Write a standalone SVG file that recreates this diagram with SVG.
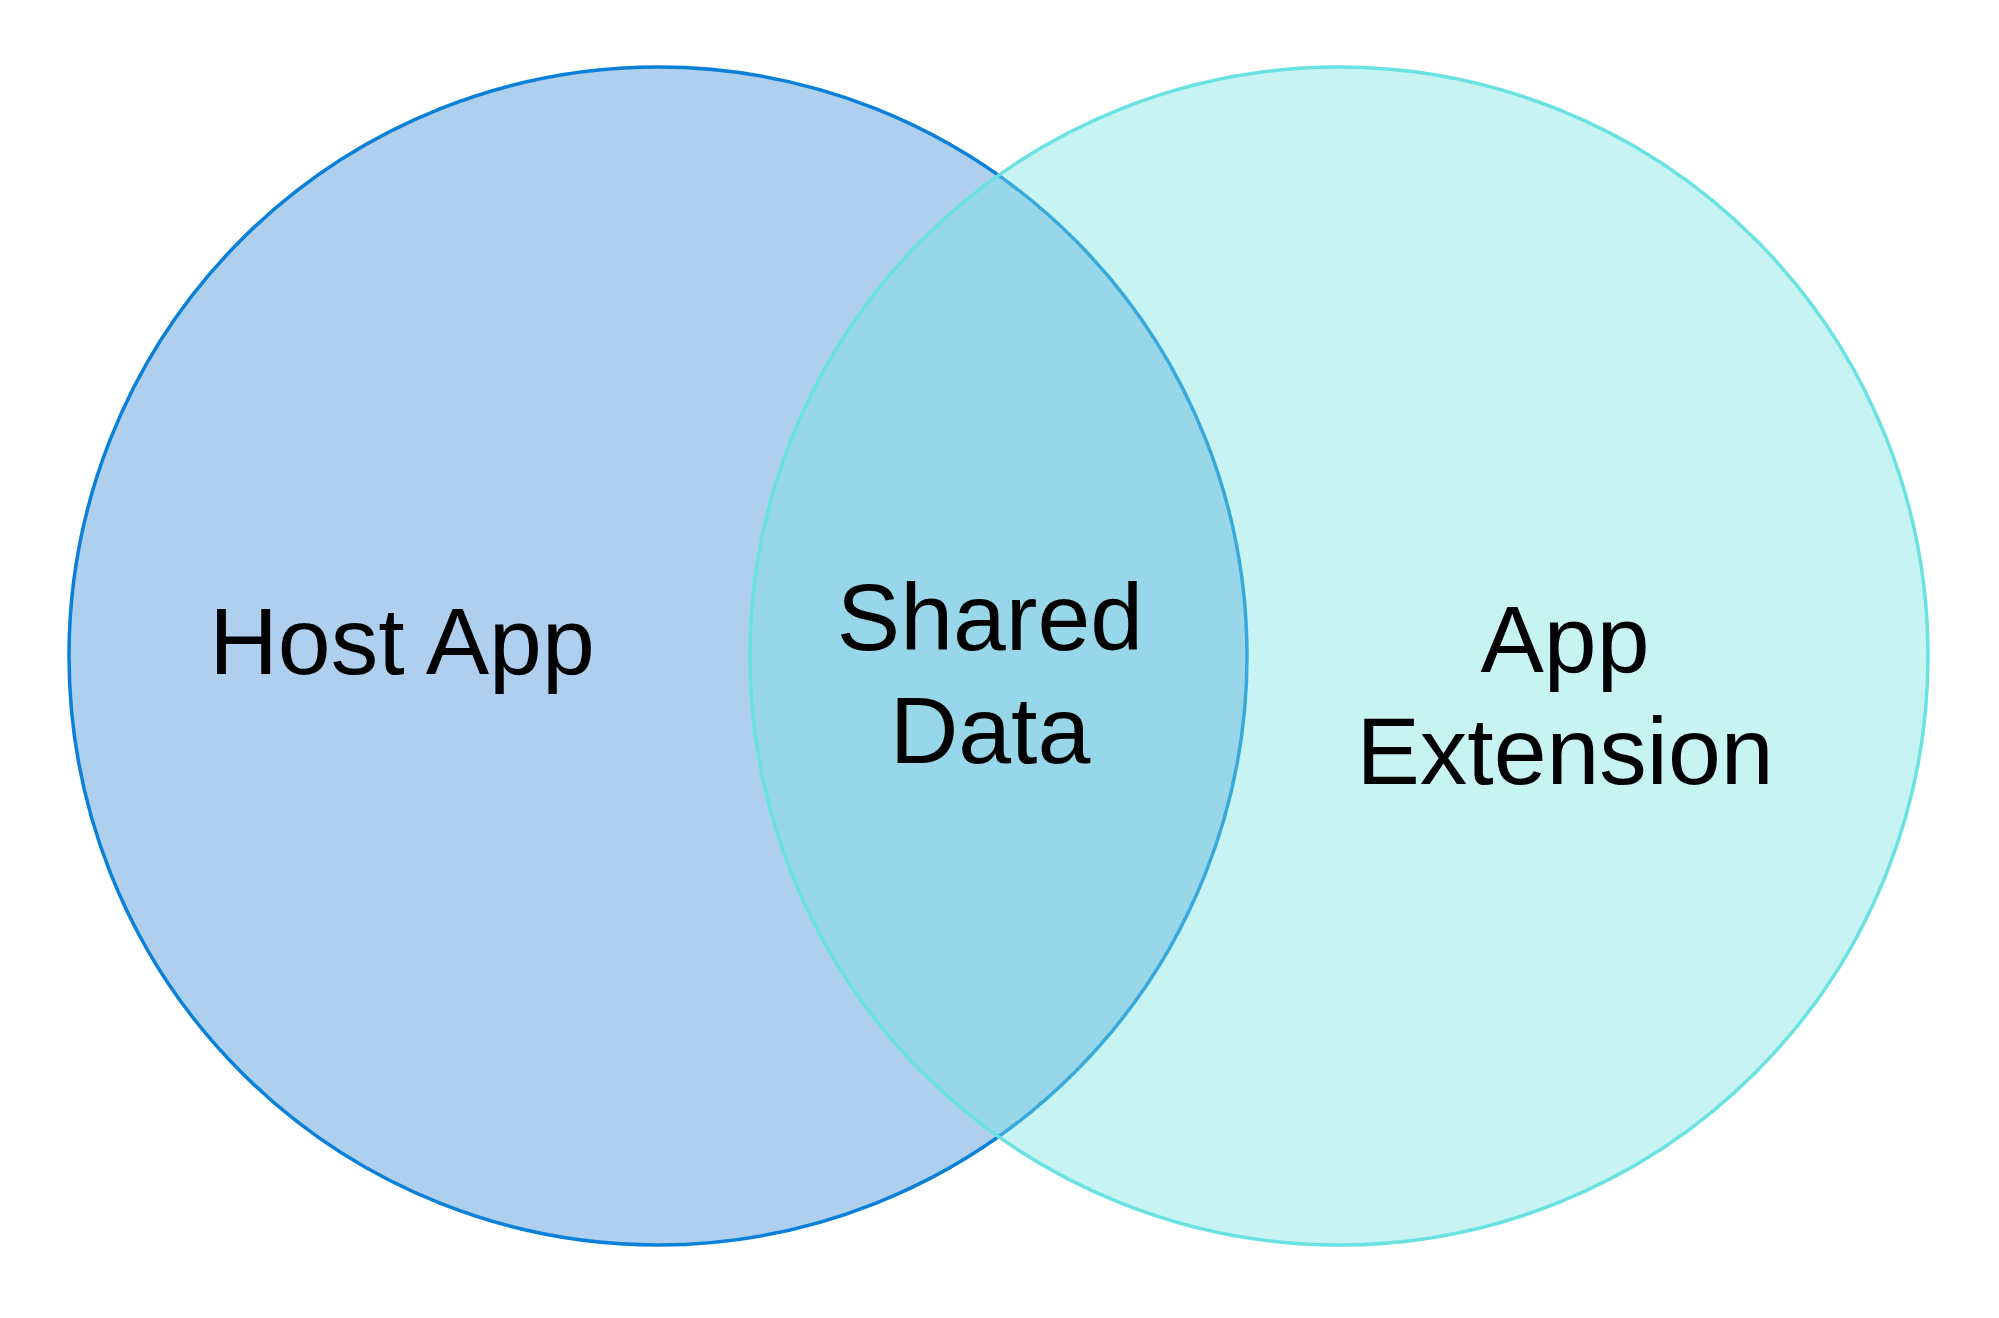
<svg xmlns="http://www.w3.org/2000/svg" width="1999" height="1318" viewBox="0 0 1999 1318">
<style>
.lbl{font-family:"Liberation Sans",Arial,sans-serif;font-size:95px;fill:#000;text-anchor:middle}
</style>
<rect width="1999" height="1318" fill="#ffffff"/>
<g id="host-app">
<circle cx="658" cy="656" r="589" fill="#AECFEE" stroke="#0B80D8" stroke-width="3.5"/>
<text class="lbl" x="402" y="674">Host App</text>
</g>
<g id="app-extension">
<circle cx="1339" cy="656" r="589" fill="#7AE2E2" fill-opacity="0.42" stroke="#6AE2E2" stroke-width="3.5"/>
<text class="lbl" x="1565" y="672">App</text>
<text class="lbl" x="1565" y="784">Extension</text>
</g>
<g id="shared-data">
<text class="lbl" x="990" y="650">Shared</text>
<text class="lbl" x="990" y="763">Data</text>
</g>
<g id="connectors"></g>
</svg>
